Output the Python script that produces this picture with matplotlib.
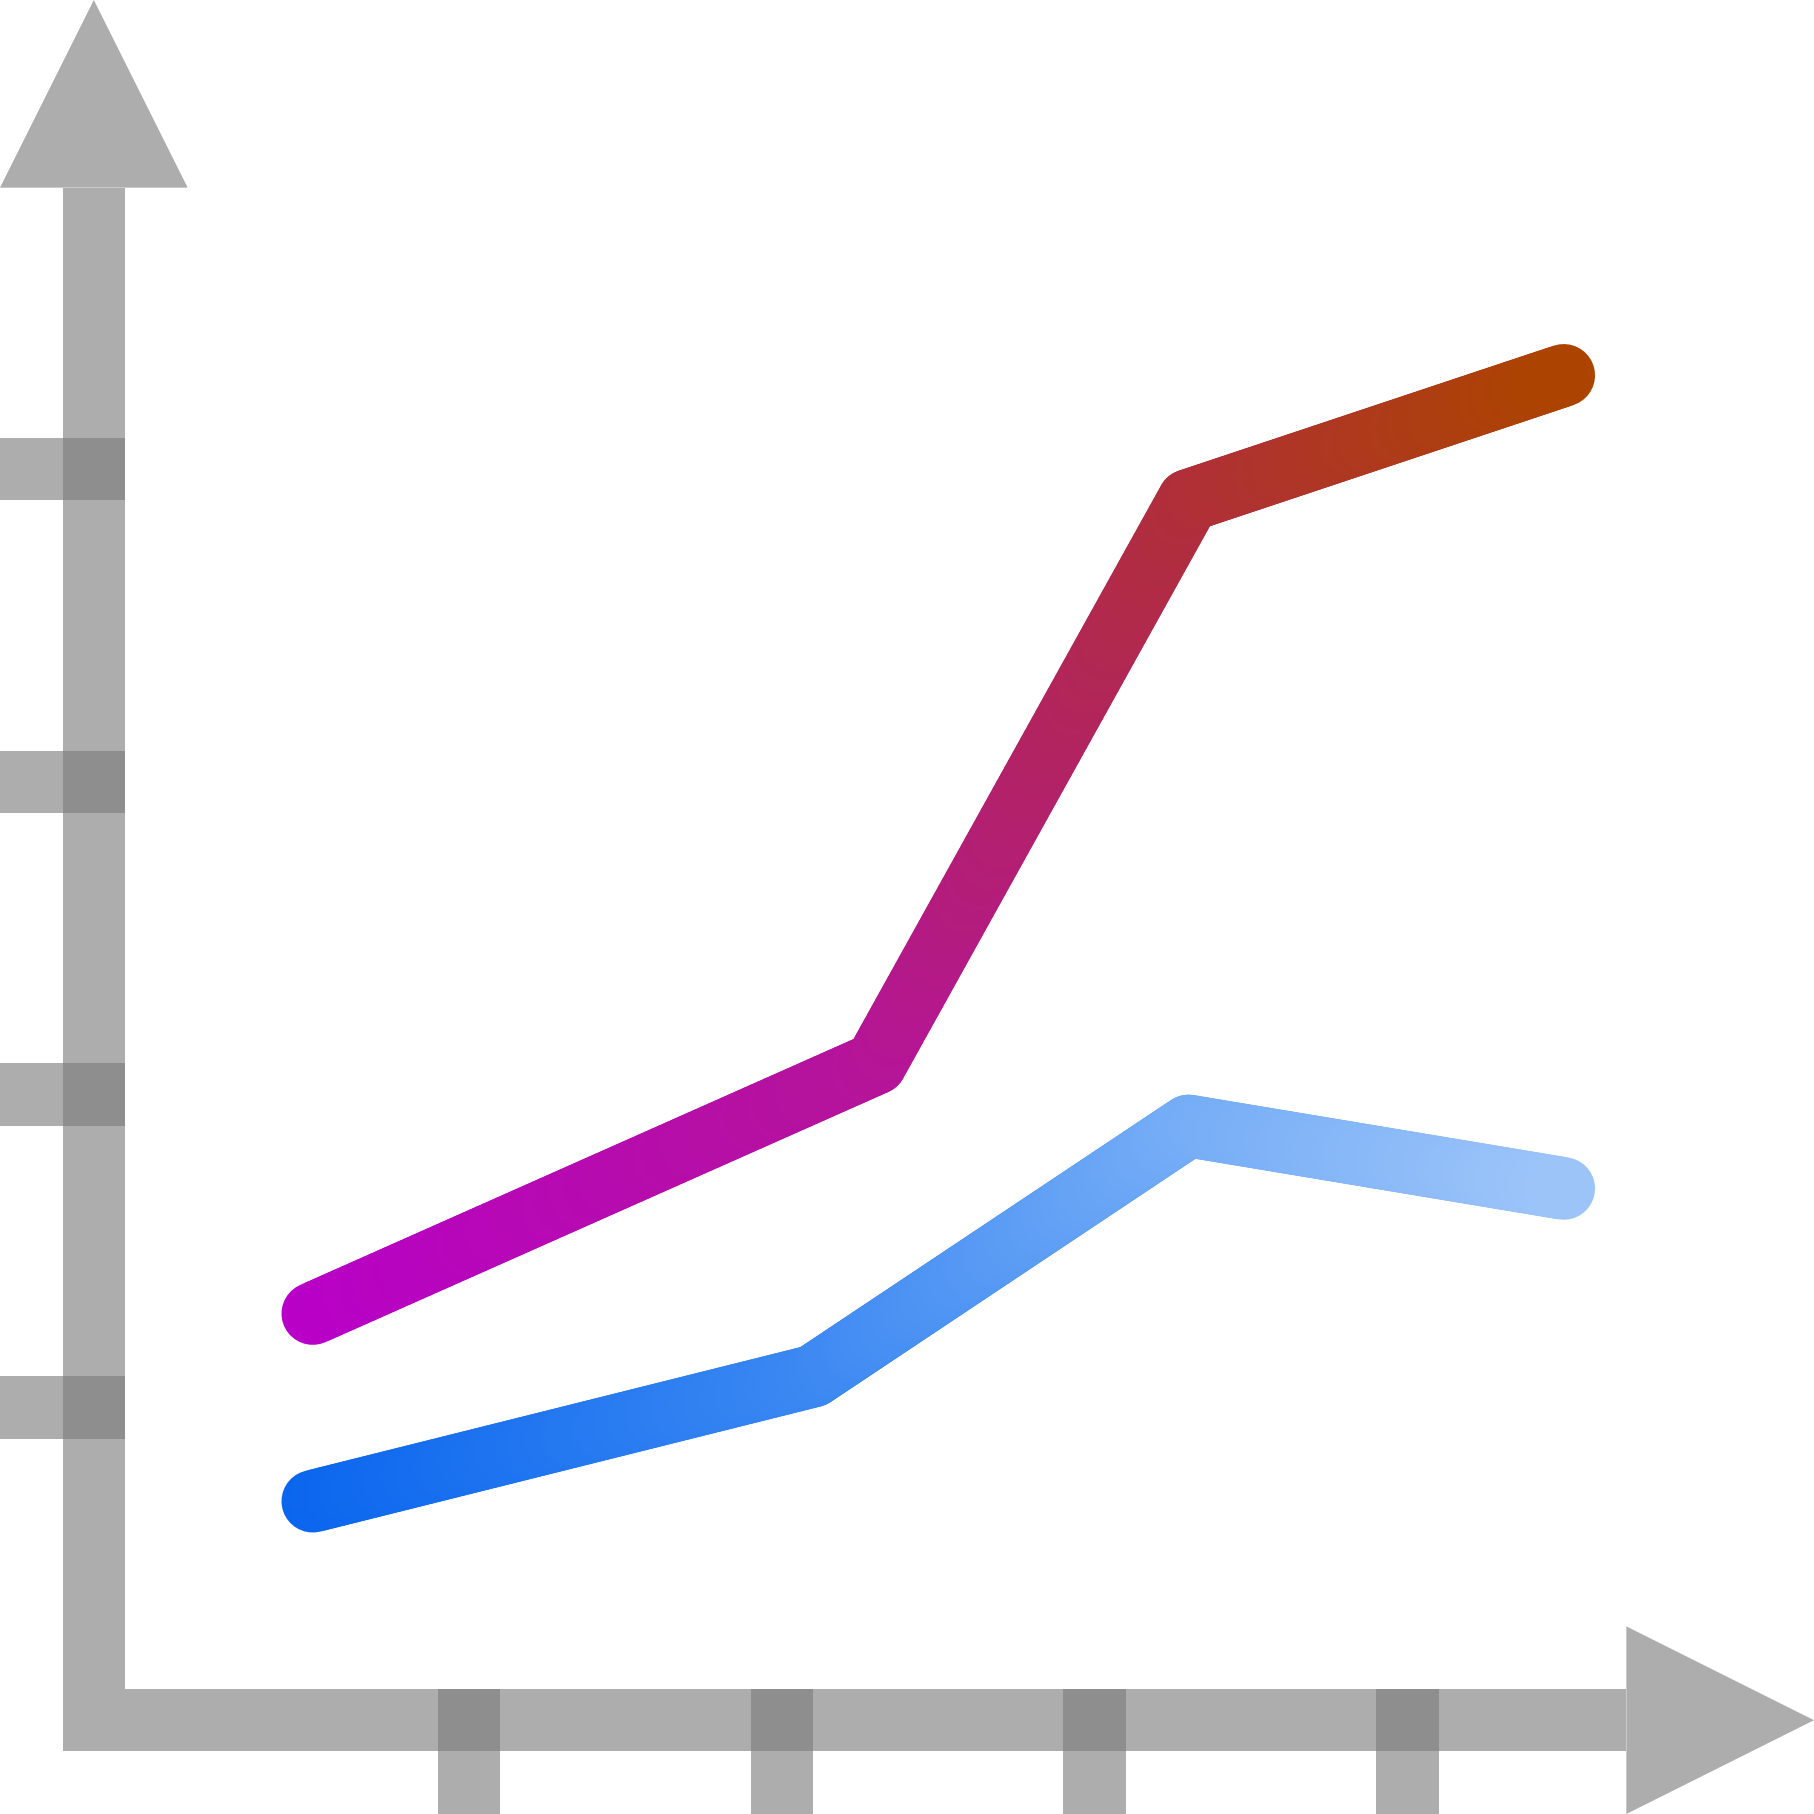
import numpy as np
import matplotlib
matplotlib.use("Agg")
import matplotlib.pyplot as plt
from matplotlib.collections import LineCollection
from matplotlib.patches import Rectangle, Polygon
from matplotlib.colors import to_rgb

# ---- data (icon grid units, y upward) ----
red_x = [5, 14, 19, 25]
red_y = [8, 12, 21, 23]
blue_x = [5, 13, 19, 25]
blue_y = [5, 7, 11, 10]
x_ticks = [7.5, 12.5, 17.5, 22.5]
y_ticks = [6.5, 11.5, 16.5, 21.5]

# ---- style ----
red_colors = ["#b800c8", "#b5149a", "#b02e3b", "#ac4400"]
blue_colors = ["#0a66ee", "#3a87f2", "#74acf6", "#9cc4f9"]
LIGHT = "#adadad"
DARK = "#8e8e8e"
N = 1814
fig = plt.figure(figsize=(N / 100, N / 100), dpi=100)
ax = fig.add_axes([0, 0, 1, 1])
ax.set_xlim(0, 29)
ax.set_ylim(0, 29)
ax.axis("off")
unit_px = N / 29.0
lw = unit_px * 72 / 100

# axes bars and arrows
ax.add_patch(Rectangle((1, 2), 1, 24, color=LIGHT, lw=0))
ax.add_patch(Polygon([(0, 26), (3, 26), (1.5, 29)], closed=True, color=LIGHT, lw=0))
ax.add_patch(Rectangle((1, 1), 25, 1, color=LIGHT, lw=0))
ax.add_patch(Polygon([(26, 0), (26, 3), (29, 1.5)], closed=True, color=LIGHT, lw=0))
for t in y_ticks:
    ax.add_patch(Rectangle((0, t - 0.5), 1, 1, color=LIGHT, lw=0))
    ax.add_patch(Rectangle((1, t - 0.5), 1, 1, color=DARK, lw=0))
for t in x_ticks:
    ax.add_patch(Rectangle((t - 0.5, 0), 1, 1, color=LIGHT, lw=0))
    ax.add_patch(Rectangle((t - 0.5, 1), 1, 1, color=DARK, lw=0))


def gradient_line(xs, ys, cols, n=80):
    segs, colors = [], []
    for i in range(len(xs) - 1):
        c0 = np.array(to_rgb(cols[i]))
        c1 = np.array(to_rgb(cols[i + 1]))
        ts = np.linspace(0, 1, n + 1)
        px = xs[i] + (xs[i + 1] - xs[i]) * ts
        py = ys[i] + (ys[i + 1] - ys[i]) * ts
        for k in range(n):
            segs.append([(px[k], py[k]), (px[k + 1], py[k + 1])])
            colors.append(c0 + (c1 - c0) * (k + 0.5) / n)
    lc = LineCollection(segs, colors=colors, linewidths=lw,
                        capstyle="round", joinstyle="round")
    ax.add_collection(lc)


gradient_line(red_x, red_y, red_colors)
gradient_line(blue_x, blue_y, blue_colors)

fig.savefig("out.png", dpi=100, facecolor="white")
